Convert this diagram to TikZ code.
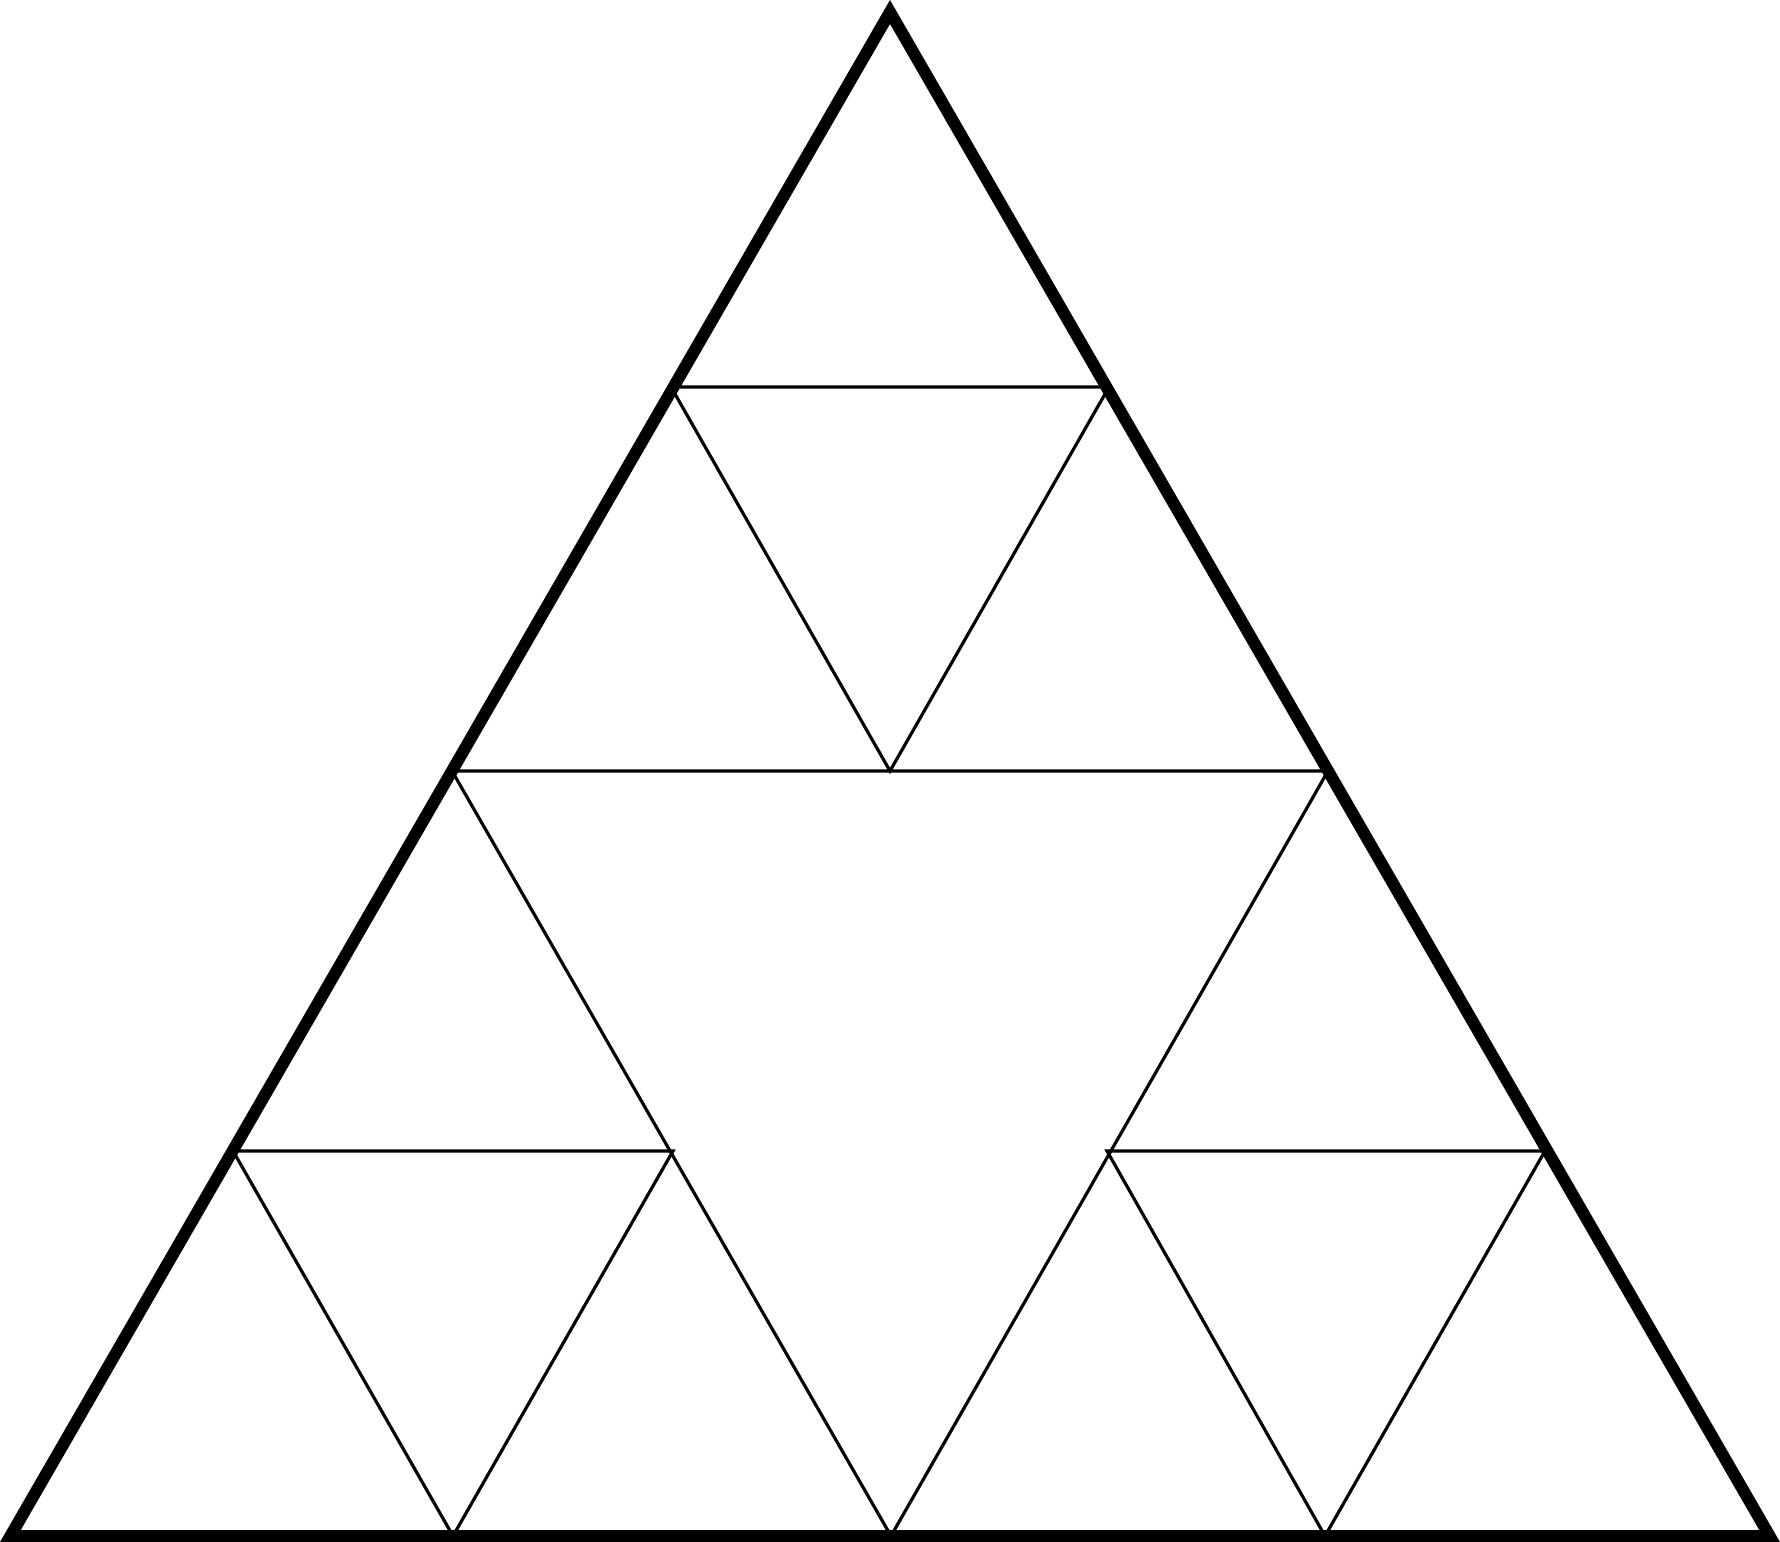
\documentclass[tikz,border=0pt]{standalone}
\usepackage{tikz}
\tikzset{outer/.style={draw=black, line width=3.4pt, line join=miter}}
\tikzset{inner/.style={draw=black, line width=0.9pt}}

\begin{document}
\begin{tikzpicture}
    \useasboundingbox (0,0) rectangle (17.8,15.42);

    \coordinate (l) at (0.104, 0.06);
    \coordinate (r) at (17.696, 0.06);
    \coordinate (t) at (8.9, 15.30);

    \coordinate (lr) at (8.91, 0.06);
    \coordinate (lt) at (4.52, 7.71);
    \coordinate (rt) at (13.28, 7.71);

    \coordinate (a1) at (4.53, 0.06);
    \coordinate (a2) at (2.33, 3.91);
    \coordinate (a3) at (6.73, 3.91);

    \coordinate (b1) at (13.25, 0.06);
    \coordinate (b2) at (11.07, 3.91);
    \coordinate (b3) at (15.45, 3.91);

    \coordinate (c1) at (8.9, 7.71);
    \coordinate (c2) at (6.71, 11.55);
    \coordinate (c3) at (11.09, 11.55);

    \draw[inner] (lr) -- (lt) -- (rt) -- cycle;
    \draw[inner] (a1) -- (a2) -- (a3) -- cycle;
    \draw[inner] (b1) -- (b2) -- (b3) -- cycle;
    \draw[inner] (c1) -- (c2) -- (c3) -- cycle;

    \draw[outer] (l) -- (r) -- (t) -- cycle;
\end{tikzpicture}
\end{document}
